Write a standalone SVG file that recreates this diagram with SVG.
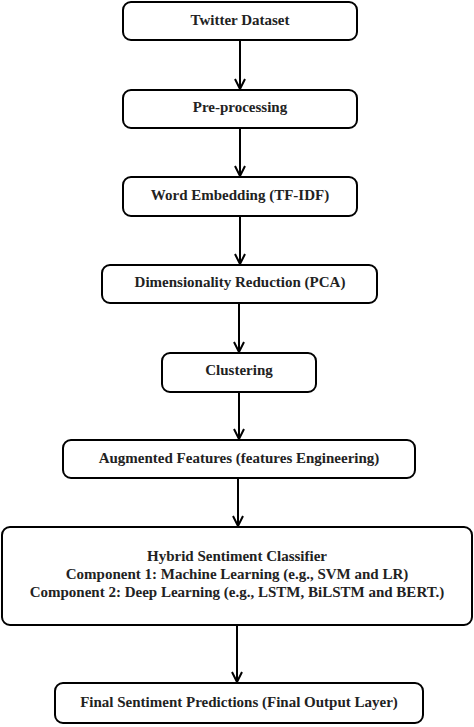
<svg xmlns="http://www.w3.org/2000/svg" width="474" height="727" viewBox="0 0 474 727">
<defs>
<style>
.box{fill:#fff;stroke:#000;stroke-width:2}
.t{font-family:"Liberation Serif",serif;font-weight:bold;font-size:15px;fill:#222;text-anchor:middle}
.c{stroke:#000;stroke-width:2;fill:none;marker-end:url(#ah)}
</style>
<marker id="ah" viewBox="0 0 12 12" refX="11" refY="6" markerWidth="12" markerHeight="12" markerUnits="userSpaceOnUse" orient="auto">
<polyline points="1,1 11,6 1,11" fill="none" stroke="#000" stroke-width="2"/>
</marker>
</defs>
<rect width="474" height="727" fill="#fff"/>
<g id="connectors">
<line class="c" x1="240" y1="41" x2="240" y2="89"/>
<line class="c" x1="240" y1="129" x2="240" y2="176"/>
<line class="c" x1="240" y1="217" x2="240" y2="264"/>
<line class="c" x1="239" y1="303" x2="239" y2="352"/>
<line class="c" x1="239" y1="392" x2="239" y2="439"/>
<line class="c" x1="238" y1="478" x2="238" y2="526"/>
<line class="c" x1="237" y1="625" x2="237" y2="682"/>
</g>
<g id="n1"><rect class="box" x="123" y="2" width="234" height="38" rx="8"/><text class="t" x="240" y="25">Twitter Dataset</text></g>
<g id="n2"><rect class="box" x="123" y="90" width="234" height="38" rx="8"/><text class="t" x="240" y="112">Pre-processing</text></g>
<g id="n3"><rect class="box" x="123" y="177" width="234" height="39" rx="8"/><text class="t" x="240" y="200">Word Embedding (TF-IDF)</text></g>
<g id="n4"><rect class="box" x="102" y="265" width="275" height="38" rx="8"/><text class="t" x="240" y="287">Dimensionality Reduction (PCA)</text></g>
<g id="n5"><rect class="box" x="162" y="353" width="154" height="39" rx="8"/><text class="t" x="239" y="375">Clustering</text></g>
<g id="n6"><rect class="box" x="63" y="440" width="352" height="38" rx="8"/><text class="t" x="239" y="463">Augmented Features (features Engineering)</text></g>
<g id="n7"><rect class="box" x="2" y="527" width="470" height="98" rx="8"/>
<text class="t" x="237" y="561">Hybrid Sentiment Classifier</text>
<text class="t" x="237" y="579">Component 1: Machine Learning (e.g., SVM and LR)</text>
<text class="t" x="237" y="597">Component 2: Deep Learning (e.g., LSTM, BiLSTM and BERT.)</text></g>
<g id="n8"><rect class="box" x="55" y="683" width="368" height="40" rx="8"/><text class="t" x="239" y="707">Final Sentiment Predictions (Final Output Layer)</text></g>
</svg>
